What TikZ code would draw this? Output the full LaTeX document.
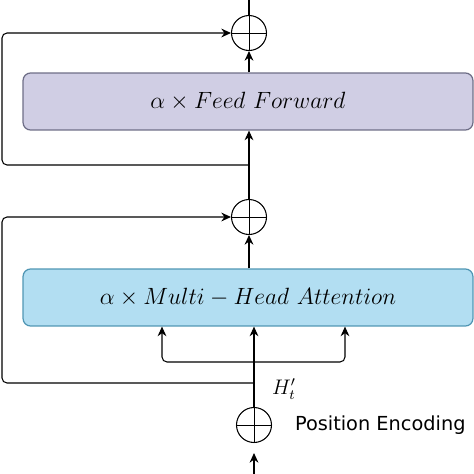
\documentclass[tikz,border=0pt]{standalone}
\usepackage{graphicx}
\usepackage{fontspec}
\newfontfamily\pefont{DejaVu Sans}
\usetikzlibrary{positioning,shapes,arrows,arrows.meta}

\definecolor{fffill}{RGB}{208,206,228}
\definecolor{ffdraw}{RGB}{110,110,135}
\definecolor{mhafill}{RGB}{178,222,242}
\definecolor{mhadraw}{RGB}{80,150,180}

\newcommand{\blocktext}[1]{\scalebox{0.93}{$#1$}}

\tikzset{
  block/.style={rounded corners=0.15cm, minimum width=9cm, minimum height=1.14cm, font=\Large, line width=0.7pt},
  oplus/.style={draw, circle, minimum size=0.7cm, inner sep=0pt,
    path picture={\draw[line width=0.5pt] (path picture bounding box.north) -- (path picture bounding box.south)
                        (path picture bounding box.west) -- (path picture bounding box.east);}},
}

\begin{document}
\begin{tikzpicture}[x=0.02cm, y=-0.02cm, >={Stealth[length=5.5pt, width=5pt]}, line width=0.6pt]
    \useasboundingbox (0,0) rectangle (474,474);

    % Boxes and adders
    \node (ff) [block, fill=fffill, draw=ffdraw] at (248,101.5) {\blocktext{\alpha \times Feed\ Forward}};
    \node (mha) [block, fill=mhafill, draw=mhadraw] at (248,297.5) {\blocktext{\alpha \times Multi - Head\ Attention}};
    \node (add1) [oplus] at (249,33) {};
    \node (add2) [oplus] at (249,217) {};
    \node (pe) [oplus] at (254,425) {};
    \node (pelabel) [right=0.45cm of pe, font=\pefont\fontsize{11}{13}\selectfont, inner sep=0pt] {Position Encoding};

    % Free ends
    \coordinate (top) at (249,0);
    \coordinate (in) at (254,474);
    \coordinate (skip1) at (249,165);
    \coordinate (skip2) at (254,383);
    \coordinate (qk) at (254,362);

    % Main path
    \draw (add1.north) -- (top);
    \draw[->] (ff.north -| add1) -- (add1.south);
    \draw[->] (add2.north) -- (ff.south -| add2);
    \draw[->] (mha.north -| add2) -- (add2.south);
    \draw[->] (pe.north) -- (mha.south -| pe);
    \draw[->, shorten >=0.2cm] (in) -- (pe.south);

    % Residual loops
    \draw[->, rounded corners=0.1cm] (skip1) -- (2,165) -- (2,33) -- (add1.west);
    \draw[->, rounded corners=0.1cm] (skip2) -- (2,383) -- (2,217) -- (add2.west);

    % Branches into attention
    \draw[->, rounded corners=0.1cm] (qk) -- (162,362) -- (mha.south -| 162,0);
    \draw[->, rounded corners=0.1cm] (qk) -- (345,362) -- (mha.south -| 345,0);

    \node (ht) [font=\large] at (284,389) {$H_t'$};
\end{tikzpicture}
\end{document}
